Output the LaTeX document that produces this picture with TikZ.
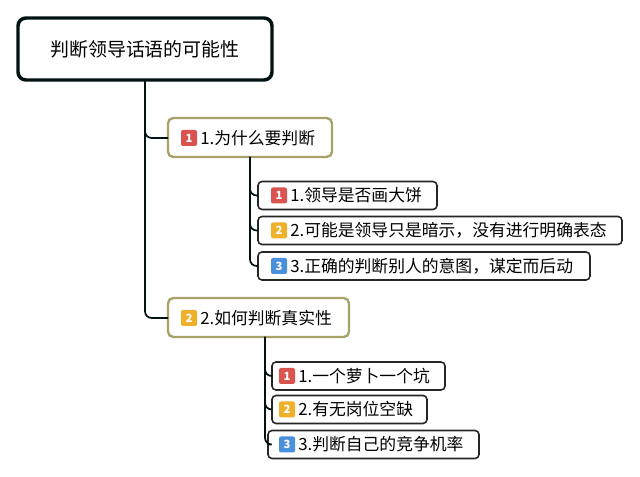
\documentclass[tikz,border=0pt]{standalone}
\usepackage{fontspec}
\setmainfont{Noto Sans CJK SC}
\begin{document}
\begin{tikzpicture}[x=0.75pt,y=-0.75pt,
  conn/.style={draw=black!85!teal,line width=1.3pt,rounded corners=5pt},
  rootbox/.style={draw=black!85!teal,line width=2.6pt,rounded corners=6pt,fill=white},
  l1box/.style={draw=olive!45!gray!80,line width=1.8pt,rounded corners=4pt,fill=white},
  l2box/.style={draw=black!85,line width=1.2pt,rounded corners=3pt,fill=white},
  badge/.style={fill=#1,rounded corners=1.5pt,minimum size=12pt,inner sep=0pt,text=white,font=\fontsize{8.5}{8.5}\selectfont\bfseries},
  txt/.style={font=\fontsize{12.6}{13}\selectfont,anchor=west,inner sep=0pt}]
\useasboundingbox (0,0) rectangle (640,477);
\definecolor{bred}{HTML}{D9534F}
\definecolor{bora}{HTML}{EFB02A}
\definecolor{bblu}{HTML}{4A8FDB}
% root
\node[rootbox,minimum width=254*0.75pt,minimum height=62*0.75pt,font=\fontsize{14.2}{15}\selectfont] (root) at (145,49) {判断领导话语的可能性};
% level1
\draw[l1box] (168,118) rectangle (332,157);
\node[badge=bred] (ab) at (189,138) {1};
\node[txt] (at) at (200,138) {1.为什么要判断};
\draw[l1box] (168,298) rectangle (349,337);
\node[badge=bora] (bb) at (189,318) {2};
\node[txt] (bt) at (200,318) {2.如何判断真实性};
% level2 group a
\foreach \y/\x/\c/\n/\t [count=\i] in {195.5/437/bred/1/1.领导是否画大饼, 230.5/622/bora/2/2.可能是领导只是暗示，没有进行明确表态, 266/590/bblu/3/3.正确的判断别人的意图，谋定而后动}{
  \draw[l2box] (258,\y-14) rectangle (\x,\y+14);
  \node[badge=\c] (ab\i) at (279,\y) {\n};
  \node[txt] (at\i) at (290,\y) {\t};
}
\foreach \y/\x/\c/\n/\t [count=\i] in {376/445/bred/1/1.一个萝卜一个坑, 409.5/427/bora/2/2.有无岗位空缺, 444.5/479/bblu/3/3.判断自己的竞争机率}{
  \draw[l2box] (\ifnum\i=3 268\else 272\fi,\y-14) rectangle (\x,\y+14);
  \node[badge=\c] (bb\i) at (287,\y) {\n};
  \node[txt] (bt\i) at (298,\y) {\t};
}
% connectors
\coordinate (r0) at (145,81);
\draw[conn] (r0) |- (168,138);
\draw[conn] (r0) |- (168,318);
\coordinate (a0) at (250,157);
\draw[conn] (a0) |- (258,195.5);
\draw[conn] (a0) |- (258,230.5);
\draw[conn] (a0) |- (258,266);
\coordinate (b0) at (265,337);
\draw[conn] (b0) |- (272,376);
\draw[conn] (b0) |- (272,409.5);
\draw[conn] (b0) |- (268,444.5);
\end{tikzpicture}
\end{document}
